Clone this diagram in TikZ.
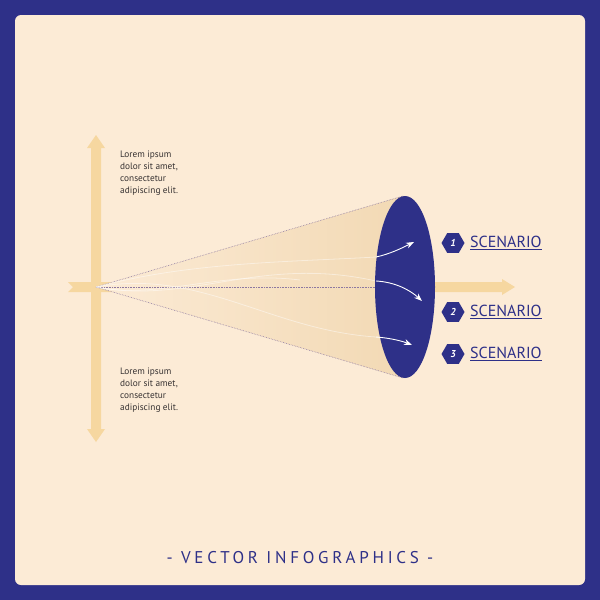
\documentclass[tikz,border=0pt]{standalone}
\usepackage{fontspec}
\setmainfont{PT Sans}
\newfontfamily\titlefont[LetterSpace=22]{PT Sans}
\usetikzlibrary{shapes.geometric,arrows.meta}
\definecolor{myindigo}{RGB}{46,48,136}
\definecolor{mycream}{RGB}{252,235,214}
\definecolor{mysand}{RGB}{246,215,160}
\definecolor{mytan}{RGB}{242,217,180}
\definecolor{mydots}{RGB}{140,120,160}
\definecolor{mytext}{RGB}{55,50,50}

\begin{document}
\begin{tikzpicture}[x=1pt,y=-1pt,
lens/.style={
  ellipse,
  fill=myindigo,
  minimum width=60pt,
  minimum height=182pt,
  inner sep=0pt},
hexb/.style={
  regular polygon,
  regular polygon sides=6,
  fill=myindigo,
  minimum size=23pt,
  inner sep=0pt,
  font={\fontsize{10}{10}\selectfont\itshape\bfseries\color{white}}},
scen/.style={
  anchor=west,
  inner sep=0pt,
  font={\fontsize{16}{18}\selectfont\color{myindigo}}},
lorem/.style={
  anchor=north west,
  inner sep=0pt,
  align=left,
  font={\fontsize{9.3}{11.8}\selectfont\color{mytext}}},
guide/.style={draw=mydots,densely dotted,line width=0.6pt},
faint/.style={draw=white,opacity=0.45,line width=0.8pt},
flow/.style={draw=white,line width=0.9pt,-{Stealth[length=8pt,width=6pt]}},
]
\useasboundingbox (0,0) rectangle (600,600);
\fill[myindigo] (0,0) rectangle (600,600);
\fill[mycream,rounded corners=6pt] (15,15) rectangle (585,585);

% axis arrows
\fill[mysand] (96,135) -- (105,148) -- (101,148) -- (101,429) -- (105,429)
  -- (96,442) -- (87,429) -- (91,429) -- (91,148) -- (87,148) -- cycle;
\fill[mysand] (68,282) -- (502,282) -- (502,279) -- (515,287) -- (502,295)
  -- (502,292) -- (68,292) -- (73,287) -- cycle;

% cone
\coordinate (apex) at (96,287);
\coordinate (top) at (403,196);
\coordinate (bot) at (403,378);
\coordinate (mid) at (376,287);
\shade[left color=mycream,right color=mytan] (apex) -- (top) -- (bot) -- cycle;
\draw[guide] (apex) -- (top);
\draw[guide] (apex) -- (bot);
\draw[guide] (apex) -- (mid);

\coordinate (s1) at (376,257);
\coordinate (s2) at (376,281);
\coordinate (s3) at (376,337);
\coordinate (e1) at (414,242);
\coordinate (e2) at (422,301);
\coordinate (e3) at (412,345);
\draw[faint] (apex) .. controls (190,262) and (290,262) .. (s1);
\draw[faint] (apex) .. controls (190,305) and (260,255) .. (s2);
\draw[faint] (apex) .. controls (200,268) and (270,330) .. (s3);
\draw[faint] (apex) .. controls (160,300) and (220,270) .. (300,280);

\node[lens] (lens) at (405,287) {};
\draw[flow] (s1) .. controls (390,254) and (402,248) .. (e1);
\draw[flow] (s2) .. controls (395,282) and (410,290) .. (e2);
\draw[flow] (s3) .. controls (390,338) and (402,341) .. (e3);

% scenarios
\node[hexb] (h1) at (453,243) {1};
\node[hexb] (h2) at (453,312) {2};
\node[hexb] (h3) at (453,354) {3};
\node[scen] (t1) at (470,243) {\underline{SCENARIO}};
\node[scen] (t2) at (470,312) {\underline{SCENARIO}};
\node[scen] (t3) at (470,354) {\underline{SCENARIO}};

\node[lorem] (up) at (120,151) {Lorem ipsum\\dolor sit amet,\\consectetur\\adipiscing elit.};
\node[lorem] (down) at (120,368) {Lorem ipsum\\dolor sit amet,\\consectetur\\adipiscing elit.};

\node[font={\titlefont\fontsize{17}{19}\selectfont\color{myindigo}}] (title) at (300,558) {- VECTOR INFOGRAPHICS -};
\end{tikzpicture}
\end{document}
